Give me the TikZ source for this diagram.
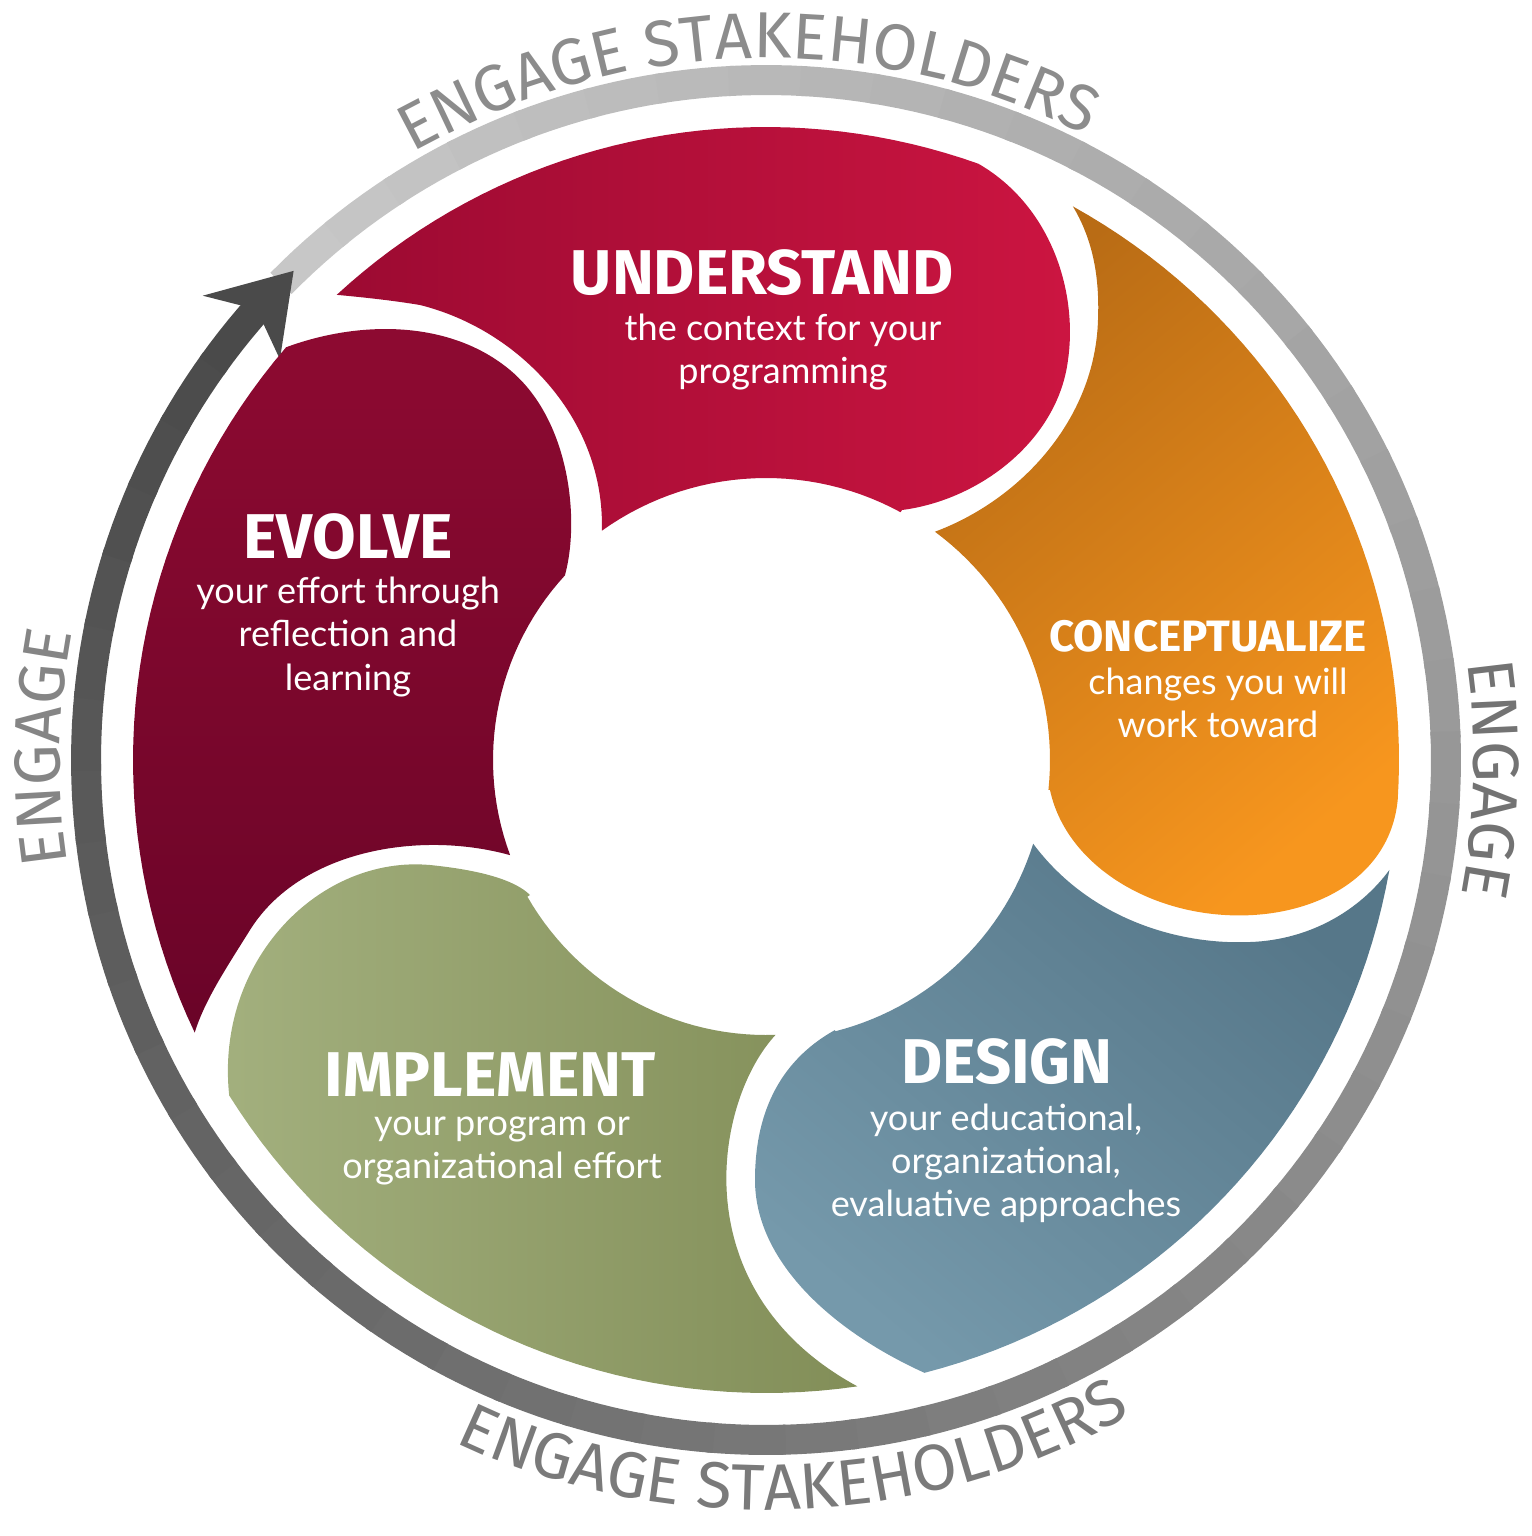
\documentclass[tikz,border=0pt]{standalone}
\usepackage{fontspec}
\setmainfont{Lato}
\newfontfamily\headfont{Fira Sans}
\usetikzlibrary{decorations.text}
\definecolor{unL}{HTML}{9C0A32}\definecolor{unR}{HTML}{CC1541}
\definecolor{evT}{HTML}{8E0A31}\definecolor{evB}{HTML}{6A0428}
\definecolor{coA}{HTML}{B96C15}\definecolor{coB}{HTML}{F7961E}
\definecolor{deA}{HTML}{567789}\definecolor{deB}{HTML}{7599AB}
\definecolor{imL}{HTML}{A3B07E}\definecolor{imR}{HTML}{828E58}
\tikzset{
  head/.style={text=white,font=\headfont\bfseries\fontsize{36}{40}\selectfont},
  headsm/.style={text=white,font=\headfont\bfseries\fontsize{25}{30}\selectfont},
  body/.style={text=white,align=center,font=\fontsize{20.5}{24.5}\selectfont},
  ringtext/.style={decorate,decoration={text along path,text align=center,
     text color=#1}},
}
\newcommand{\ringfnt}{\headfont\fontsize{37}{40}\selectfont}
\begin{document}
\begin{tikzpicture}[x=0.02cm,y=-0.02cm]
\useasboundingbox (0,0) rectangle (1532,1536);
% ring
\foreach \i in {0,...,58}{
  \pgfmathsetmacro{\a}{135.5-6.05*\i}
  \pgfmathsetmacro{\b}{135.5-6.05*\i-6.6}
  \pgfmathsetmacro{\p}{22+49*\i/58}
  \draw[line width=0.6cm,color=black!\p] plot[domain=\a:\b,samples=6] ({766+680*cos(\x)},{760-680*sin(\x)});
}
\fill[black!71] ({766+680*cos(134)},{760-680*sin(134)}) -- ({766+730*cos(140.5)},{760-730*sin(140.5)})
  -- ({766+680*cos(138.5)},{760-680*sin(138.5)}) -- ({766+630*cos(140.5)},{760-630*sin(140.5)}) -- cycle;
% ring texts
\path[ringtext=black!45,decoration={text={|\ringfnt|ENGAGE STAKEHOLDERS}}] plot[domain=161.5:21.5,samples=60] ({766+702*cos(\x)},{760-702*sin(\x)});
\path[ringtext=black!52,decoration={text={|\ringfnt|ENGAGE STAKEHOLDERS}}] plot[domain=212.3:332.3,samples=60] ({766+750*cos(\x)},{760-750*sin(\x)});
\path[ringtext=black!48,decoration={text={|\ringfnt|ENGAGE}}] plot[domain=209:149,samples=30] ({766+706*cos(\x)},{760-706*sin(\x)});
\path[ringtext=black!55,decoration={text={|\ringfnt|ENGAGE}}] plot[domain=28.5:-31.5,samples=30] ({766+708*cos(\x)},{760-708*sin(\x)});
% UNDERSTAND
\shade[left color=unL,right color=unR] plot[domain=132.7:70.4,samples=40] ({766+633*cos(\x)},{760-633*sin(\x)})
  .. controls (1050,205) and (1078,290) .. (1068,360) .. controls (1058,440) and (980,500) .. (902,510)
  -- plot[domain=61.5:125.6,samples=30] ({766+282*cos(\x)},{760-282*sin(\x)})
  .. controls (605,420) and (520,330) .. (420,305) .. controls (390,300) and (360,297) .. cycle;
% CONCEPTUALIZE
\shade[top color=coA,bottom color=coB,shading angle=40] plot[domain=61:-3.6,samples=40] ({766+633*cos(\x)},{760-633*sin(\x)})
  .. controls (1390,880) and (1310,920) .. (1225,915) .. controls (1140,910) and (1065,860) .. (1050,790)
  -- plot[domain=-6:53.5,samples=30] ({766+284*cos(\x)},{760-284*sin(\x)})
  .. controls (1020,500) and (1095,420) .. (1098,320) .. controls (1100,270) and (1090,235) .. cycle;
% DESIGN
\shade[top color=deA,bottom color=deB,shading angle=-40] plot[domain=-10:-75.5,samples=40] ({766+633*cos(\x)},{760-633*sin(\x)})
  .. controls (830,1330) and (755,1260) .. (755,1180) .. controls (755,1100) and (790,1055) .. (835,1030)
  -- plot[domain=-75.7:-17.4,samples=30] ({766+280*cos(\x)},{760-280*sin(\x)})
  .. controls (1090,920) and (1180,945) .. (1250,942) .. controls (1310,940) and (1360,910) .. cycle;
% IMPLEMENT
\shade[left color=imL,right color=imR] plot[domain=-81.7:-148,samples=40] ({766+633*cos(\x)},{760-633*sin(\x)})
  .. controls (215,960) and (320,855) .. (430,865) .. controls (480,870) and (515,880) .. (530,895)
  -- plot[domain=-150.2:-88,samples=30] ({766+275*cos(\x)},{760-275*sin(\x)})
  .. controls (715,1100) and (680,1290) .. cycle;
% EVOLVE
\shade[top color=evT,bottom color=evB] plot[domain=205.5:139.3,samples=40] ({766+633*cos(\x)},{760-633*sin(\x)})
  .. controls (360,320) and (450,320) .. (510,370) .. controls (570,420) and (580,520) .. (565,575)
  -- plot[domain=137.4:200.4,samples=30] ({766+273*cos(\x)},{760-273*sin(\x)})
  .. controls (420,830) and (300,850) .. (250,930) .. controls (225,970) and (205,1000) .. cycle;
% texts
\node[head] (uh) at (762,273) {UNDERSTAND};
\node[body] (ub) at (783,352) {the context for your\\programming};
\node[head] (eh) at (348,537) {EVOLVE};
\node[body] (eb) at (348,637) {your effort through\\reflection and\\learning};
\node[headsm] (ch) at (1208,636) {CONCEPTUALIZE};
\node[body] (cb) at (1218,703) {changes you will\\work toward};
\node[head] (dh) at (1007,1062) {DESIGN};
\node[body] (db) at (1006,1163) {your educational,\\organizational,\\evaluative approaches};
\node[head] (ih) at (490,1075) {IMPLEMENT};
\node[body] (ib) at (502,1151) {your program or\\organizational effort};
\end{tikzpicture}
\end{document}
